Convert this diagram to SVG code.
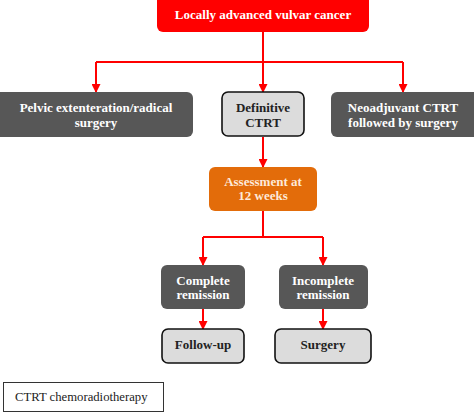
<svg xmlns="http://www.w3.org/2000/svg" width="474" height="413" viewBox="0 0 474 413">
<style>
.t{font-family:"Liberation Serif","DejaVu Serif",serif;font-weight:bold;font-size:13px;text-anchor:middle}
.w{fill:#ffffff}
.k{fill:#222222}
.o{fill:#fde9d9}
.dark{fill:#575757}
.light{fill:#dcdcdc;stroke:#111;stroke-width:1.6}
.c{stroke:#ff0000;stroke-width:2;fill:none}
</style>
<defs>
<marker id="ah" markerWidth="9" markerHeight="9" refX="8" refY="4.5" orient="auto" markerUnits="userSpaceOnUse">
<path d="M0,0 L9,4.5 L0,9 Z" fill="#ff0000"/>
</marker>
</defs>
<rect width="474" height="413" fill="#ffffff"/>
<g id="connectors">
<path class="c" d="M263,32 V62"/>
<path class="c" d="M96,62 H403"/>
<path class="c" d="M96,62 V92" marker-end="url(#ah)"/>
<path class="c" d="M263,62 V92" marker-end="url(#ah)"/>
<path class="c" d="M403,62 V92" marker-end="url(#ah)"/>
<path class="c" d="M263,137 V167" marker-end="url(#ah)"/>
<path class="c" d="M263,211 V237"/>
<path class="c" d="M203,237 H323"/>
<path class="c" d="M203,237 V265" marker-end="url(#ah)"/>
<path class="c" d="M323,237 V265" marker-end="url(#ah)"/>
<path class="c" d="M203,309 V329" marker-end="url(#ah)"/>
<path class="c" d="M323,309 V329" marker-end="url(#ah)"/>
</g>
<g id="top">
<rect x="157" y="-6" width="212" height="38" rx="6" fill="#ff0000"/>
<text class="t w" x="263" y="19">Locally advanced vulvar cancer</text>
</g>
<g id="pelvic">
<rect class="dark" x="-6" y="92" width="199" height="45" rx="6"/>
<text class="t w" x="96" y="112">Pelvic extenteration/radical</text>
<text class="t w" x="96" y="126.5">surgery</text>
</g>
<g id="definitive">
<rect class="light" x="222" y="92" width="82" height="44" rx="6"/>
<text class="t k" x="263" y="112">Definitive</text>
<text class="t k" x="263" y="126.5">CTRT</text>
</g>
<g id="neoadjuvant">
<rect class="dark" x="331" y="92" width="150" height="45" rx="6"/>
<text class="t w" x="403" y="112">Neoadjuvant CTRT</text>
<text class="t w" x="403" y="126.5">followed by surgery</text>
</g>
<g id="assessment">
<rect x="209" y="167" width="108" height="44" rx="6" fill="#e36c0a"/>
<text class="t o" x="263" y="186">Assessment at</text>
<text class="t o" x="263" y="200">12 weeks</text>
</g>
<g id="complete">
<rect class="dark" x="161" y="265" width="84" height="44" rx="6"/>
<text class="t w" x="203" y="284.5">Complete</text>
<text class="t w" x="203" y="298.5">remission</text>
</g>
<g id="incomplete">
<rect class="dark" x="279" y="265" width="89" height="44" rx="6"/>
<text class="t w" x="323" y="284.5">Incomplete</text>
<text class="t w" x="323" y="298.5">remission</text>
</g>
<g id="followup">
<rect class="light" x="162" y="329" width="82" height="34" rx="6"/>
<text class="t k" x="203" y="348.5">Follow-up</text>
</g>
<g id="surgery">
<rect class="light" x="275" y="329" width="96" height="34" rx="6"/>
<text class="t k" x="323" y="348.5">Surgery</text>
</g>
<g id="legend">
<rect x="3.5" y="382.5" width="160" height="29" fill="#ffffff" stroke="#333" stroke-width="1"/>
<text x="15" y="401" style="font-family:'Liberation Serif','DejaVu Serif',serif;font-size:12.7px" fill="#222">CTRT chemoradiotherapy</text>
</g>
</svg>
